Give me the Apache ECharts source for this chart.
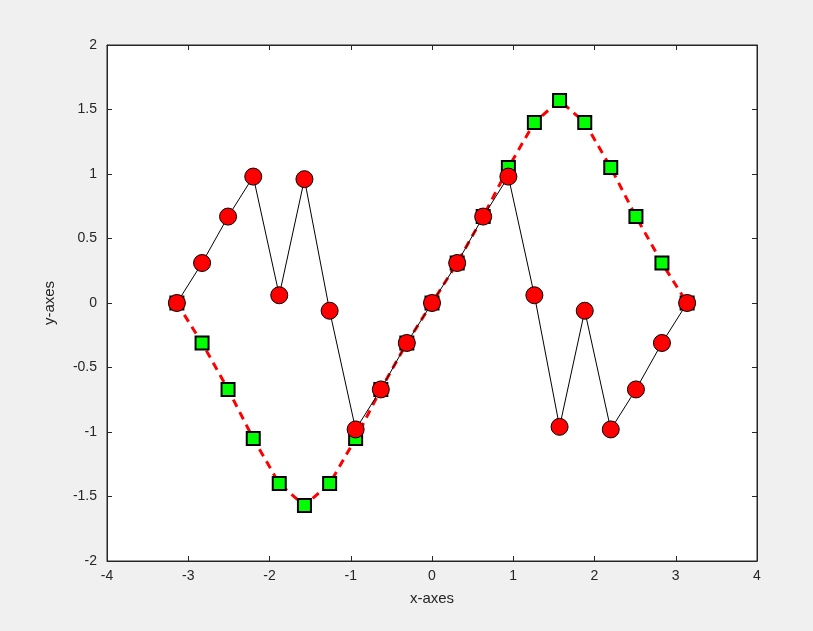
<!DOCTYPE html>
<html><head><meta charset="utf-8">
<script src="https://cdn.jsdelivr.net/npm/echarts@6/dist/echarts.min.js"></script>
<style>html,body{margin:0;padding:0;background:#f0f0f0}#c{width:813px;height:631px}</style>
</head><body><div id="c"></div>
<script>
const xs = [-3.14,-2.83,-2.51,-2.2,-1.88,-1.57,-1.26,-0.94,-0.63,-0.31,0,0.31,0.63,0.94,1.26,1.57,1.88,2.2,2.51,2.83,3.14];
const squares = [0,-0.31,-0.67,-1.05,-1.4,-1.57,-1.4,-1.05,-0.67,-0.31,0,0.31,0.67,1.05,1.4,1.57,1.4,1.05,0.67,0.31,0];
const circles = [0,0.31,0.67,0.98,0.06,0.96,-0.06,-0.98,-0.67,-0.31,0,0.31,0.67,0.98,0.06,-0.96,-0.06,-0.98,-0.67,-0.31,0];
const xTicks = {min:-4,max:4,interval:1};
const yTicks = {min:-2,max:2,interval:0.5};
const pair = a => xs.map((x,i)=>[x,a[i]]);
const lab = {color:'#262626',fontFamily:'Arial, Liberation Sans',fontSize:14};
const ax = {type:'value',axisLine:{onZero:false,lineStyle:{color:'#262626'}},axisTick:{inside:true,length:5,lineStyle:{color:'#262626'}},splitLine:{show:false}};
const chart = echarts.init(document.getElementById('c'));
chart.setOption({
 backgroundColor:'#f0f0f0',
 grid:{left:107,right:56,top:45,bottom:70,show:true,backgroundColor:'#fff',borderColor:'#262626',borderWidth:1},
 xAxis:[Object.assign({},ax,xTicks,{name:'x-axes',nameLocation:'middle',nameGap:30,nameTextStyle:{color:'#262626',fontSize:15,fontFamily:'Arial, Liberation Sans'},axisLabel:Object.assign({margin:8},lab)}),
        Object.assign({},ax,xTicks,{position:'top',axisLabel:{show:false}})],
 yAxis:[Object.assign({},ax,yTicks,{name:'y-axes',nameLocation:'middle',nameGap:50,nameTextStyle:{color:'#262626',fontSize:15,fontFamily:'Arial, Liberation Sans'},axisLabel:Object.assign({margin:10,formatter:v=>String(v)},lab)}),
        Object.assign({},ax,yTicks,{position:'right',axisLabel:{show:false}})],
 series:[
  {type:'line',data:pair(squares),symbol:'rect',symbolSize:13,lineStyle:{color:'#ff0000',width:3,type:[8,6]},itemStyle:{color:'#00ff00',borderColor:'#000',borderWidth:2},animation:false},
  {type:'line',data:pair(circles),symbol:'circle',symbolSize:17,lineStyle:{color:'#000',width:1},itemStyle:{color:'#ff0000',borderColor:'#000',borderWidth:1},animation:false}
 ]
});
</script></body></html>
